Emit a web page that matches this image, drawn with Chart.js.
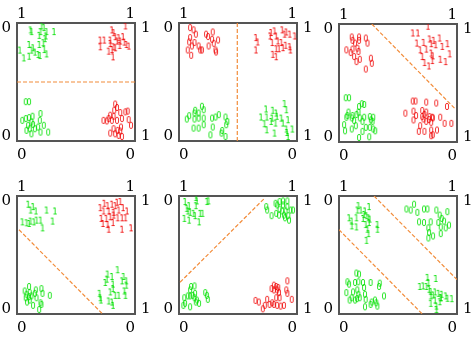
<!DOCTYPE html>
<html>
<head>
<meta charset="utf-8">
<script src="https://cdn.jsdelivr.net/npm/chart.js"></script>
<style>
  html, body { margin: 0; padding: 0; background: #fff; overflow: hidden; }
  body { width: 474px; height: 338px; position: relative; }
  canvas { position: absolute; }
</style>
</head>
<body>
<canvas id="c1" width="158" height="169" style="left:0px;top:0px"></canvas>
<canvas id="c2" width="158" height="169" style="left:162px;top:0px"></canvas>
<canvas id="c3" width="158" height="169" style="left:322px;top:1px"></canvas>
<canvas id="c4" width="158" height="169" style="left:0px;top:173px"></canvas>
<canvas id="c5" width="158" height="169" style="left:162px;top:173px"></canvas>
<canvas id="c6" width="158" height="169" style="left:322px;top:173px"></canvas>
<script>
// corner labels (same on every panel)
const topLabels = ['1', '1'];
const bottomLabels = ['0', '0'];
const leftLabels = ['0', '0'];
const rightLabels = ['1', '1'];
const cornerTicks = [0.04, 0.96];

const RED = '#f00000';
const GREEN = '#00e000';
const LINE = '#f28c3a';

// panel 1
const p1TopLeft = [[0.114,0.937],[0.122,0.923],[0.207,0.971],[0.227,0.957],[0.199,0.923],[0.25,0.923],[0.244,0.886],[0.313,0.923],[0.188,0.891],[0.236,0.863],[0.102,0.814],[0.136,0.786],[0.188,0.814],[0.222,0.829],[0.023,0.766],[0.122,0.766],[0.151,0.749],[0.179,0.729],[0.193,0.72],[0.25,0.734],[0.057,0.7],[0.102,0.714],[0.23,0.771]];
const p1TopRight = [[0.918,0.971],[0.804,0.937],[0.818,0.914],[0.705,0.851],[0.739,0.851],[0.79,0.851],[0.832,0.88],[0.861,0.871],[0.898,0.88],[0.847,0.843],[0.875,0.843],[0.909,0.834],[0.926,0.814],[0.946,0.8],[0.79,0.823],[0.818,0.794],[0.776,0.757],[0.804,0.771],[0.832,0.786],[0.869,0.806],[0.705,0.794],[0.813,0.709]];
const p1BottomLeft = [[0.074,0.329],[0.102,0.329],[0.045,0.171],[0.074,0.186],[0.102,0.194],[0.131,0.206],[0.199,0.229],[0.193,0.171],[0.122,0.157],[0.094,0.129],[0.136,0.137],[0.108,0.1],[0.151,0.1],[0.179,0.114],[0.227,0.129],[0.122,0.057],[0.199,0.071],[0.264,0.071],[0.08,0.086]];
const p1BottomRight = [[0.832,0.309],[0.847,0.28],[0.824,0.257],[0.875,0.237],[0.918,0.243],[0.938,0.249],[0.79,0.214],[0.818,0.206],[0.776,0.186],[0.733,0.171],[0.761,0.166],[0.804,0.171],[0.847,0.171],[0.889,0.186],[0.946,0.177],[0.966,0.129],[0.881,0.114],[0.818,0.1],[0.852,0.086],[0.875,0.08],[0.79,0.063],[0.832,0.057],[0.861,0.043],[0.889,0.034]];
const p1Lines = [[[0, 0.5], [1, 0.5]]];

// panel 2
const p2TopLeft = [[0.094,0.957],[0.123,0.938],[0.143,0.901],[0.094,0.872],[0.086,0.835],[0.131,0.83],[0.109,0.801],[0.166,0.801],[0.18,0.767],[0.194,0.767],[0.074,0.767],[0.103,0.722],[0.229,0.901],[0.246,0.881],[0.286,0.92],[0.28,0.858],[0.294,0.824],[0.331,0.852],[0.251,0.801],[0.309,0.767],[0.314,0.75]];
const p2TopRight = [[0.651,0.872],[0.666,0.835],[0.651,0.767],[0.78,0.915],[0.809,0.929],[0.771,0.886],[0.823,0.886],[0.874,0.938],[0.909,0.92],[0.894,0.901],[0.937,0.901],[0.98,0.886],[0.789,0.83],[0.837,0.844],[0.866,0.83],[0.903,0.807],[0.937,0.795],[0.943,0.767],[0.823,0.778],[0.846,0.778],[0.88,0.787],[0.794,0.73],[0.823,0.71]];
const p2BottomLeft = [[0.137,0.256],[0.194,0.29],[0.209,0.261],[0.131,0.233],[0.166,0.233],[0.086,0.21],[0.066,0.182],[0.131,0.182],[0.166,0.19],[0.209,0.19],[0.28,0.19],[0.309,0.199],[0.337,0.219],[0.394,0.199],[0.409,0.162],[0.4,0.134],[0.166,0.105],[0.123,0.105],[0.209,0.134],[0.286,0.114],[0.366,0.085],[0.36,0.063],[0.266,0.048],[0.394,0.034]];
const p2BottomRight = [[0.894,0.3125],[0.909,0.261],[0.737,0.267],[0.794,0.256],[0.823,0.233],[0.694,0.199],[0.743,0.199],[0.789,0.19],[0.829,0.205],[0.866,0.19],[0.923,0.176],[0.723,0.142],[0.78,0.162],[0.817,0.148],[0.88,0.148],[0.743,0.091],[0.809,0.0625],[0.909,0.097],[0.96,0.097],[0.923,0.034],[0.914,0.068]];
const p2Lines = [[[0.494, 0], [0.494, 1]]];

// panel 3
const p3TopLeft = [[0.108,0.886],[0.17,0.886],[0.227,0.877],[0.114,0.857],[0.136,0.834],[0.17,0.857],[0.241,0.834],[0.0625,0.777],[0.114,0.783],[0.156,0.791],[0.165,0.763],[0.128,0.72],[0.176,0.697],[0.27,0.706],[0.278,0.663],[0.148,0.677],[0.227,0.614],[0.099,0.754]];
const p3TopRight = [[0.753,0.977],[0.625,0.92],[0.668,0.92],[0.767,0.869],[0.852,0.877],[0.801,0.857],[0.659,0.834],[0.716,0.84],[0.781,0.829],[0.818,0.82],[0.875,0.806],[0.918,0.829],[0.688,0.777],[0.739,0.783],[0.781,0.749],[0.795,0.726],[0.705,0.72],[0.858,0.697],[0.903,0.677],[0.9375,0.743],[0.724,0.669],[0.761,0.64],[0.79,0.686]];
const p3BottomLeft = [[0.057,0.371],[0.085,0.371],[0.193,0.32],[0.17,0.297],[0.213,0.314],[0.08,0.249],[0.165,0.249],[0.148,0.229],[0.114,0.22],[0.071,0.22],[0.108,0.2],[0.0625,0.206],[0.176,0.2],[0.213,0.206],[0.261,0.211],[0.29,0.206],[0.27,0.183],[0.284,0.171],[0.128,0.177],[0.199,0.171],[0.043,0.143],[0.142,0.134],[0.227,0.12],[0.261,0.12],[0.29,0.106],[0.307,0.091],[0.108,0.106],[0.051,0.091],[0.199,0.086],[0.256,0.04],[0.17,0.034]];
const p3BottomRight = [[0.625,0.343],[0.648,0.343],[0.739,0.334],[0.824,0.326],[0.915,0.297],[0.5625,0.24],[0.631,0.257],[0.705,0.263],[0.739,0.249],[0.653,0.22],[0.724,0.229],[0.767,0.211],[0.79,0.206],[0.705,0.211],[0.631,0.183],[0.716,0.191],[0.761,0.186],[0.795,0.2],[0.858,0.206],[0.739,0.171],[0.781,0.163],[0.895,0.154],[0.952,0.154],[0.676,0.086],[0.724,0.086],[0.781,0.097],[0.83,0.097],[0.781,0.049],[0.795,0.057],[0.688,0.134]];
const p3Lines = [[[0.278, 1], [0.985, 0.28]]];

// panel 4
const p4TopLeft = [[0.094,0.926],[0.136,0.906],[0.114,0.877],[0.159,0.869],[0.25,0.877],[0.321,0.869],[0.045,0.777],[0.08,0.769],[0.114,0.783],[0.142,0.777],[0.165,0.791],[0.199,0.791],[0.216,0.726],[0.301,0.783],[0.102,0.763]];
const p4TopRight = [[0.705,0.897],[0.739,0.934],[0.767,0.914],[0.804,0.926],[0.847,0.943],[0.875,0.949],[0.832,0.914],[0.733,0.869],[0.776,0.869],[0.818,0.857],[0.861,0.877],[0.898,0.897],[0.932,0.869],[0.713,0.806],[0.756,0.806],[0.79,0.82],[0.818,0.834],[0.852,0.811],[0.889,0.811],[0.918,0.811],[0.727,0.763],[0.767,0.754],[0.813,0.771],[0.776,0.714],[0.889,0.714],[0.966,0.726]];
const p4BottomLeft = [[0.065,0.191],[0.102,0.229],[0.08,0.163],[0.108,0.177],[0.074,0.134],[0.102,0.143],[0.122,0.149],[0.151,0.171],[0.108,0.114],[0.085,0.097],[0.165,0.134],[0.136,0.069],[0.199,0.091],[0.207,0.211],[0.216,0.171],[0.278,0.154],[0.159,0.2],[0.188,0.034],[0.207,0.077]];
const p4BottomRight = [[0.852,0.371],[0.767,0.334],[0.804,0.314],[0.761,0.291],[0.747,0.263],[0.903,0.314],[0.926,0.277],[0.889,0.277],[0.926,0.24],[0.813,0.249],[0.813,0.211],[0.79,0.183],[0.832,0.154],[0.861,0.154],[0.909,0.191],[0.918,0.154],[0.699,0.171],[0.705,0.134],[0.71,0.114],[0.776,0.106],[0.804,0.097],[0.813,0.069]];
const p4Lines = [[[0.017, 0.714], [0.719, 0.006]]];

// panel 5
const p5TopLeft = [[0.142,0.983],[0.051,0.949],[0.151,0.954],[0.25,0.954],[0.236,0.949],[0.085,0.914],[0.065,0.891],[0.142,0.914],[0.074,0.869],[0.094,0.857],[0.122,0.849],[0.179,0.849],[0.199,0.849],[0.136,0.829],[0.045,0.806],[0.085,0.791],[0.17,0.777]];
const p5TopRight = [[0.739,0.906],[0.747,0.877],[0.818,0.934],[0.832,0.92],[0.852,0.949],[0.881,0.954],[0.918,0.954],[0.881,0.92],[0.918,0.906],[0.852,0.886],[0.875,0.869],[0.903,0.869],[0.946,0.877],[0.966,0.877],[0.824,0.849],[0.784,0.829],[0.847,0.834],[0.889,0.834],[0.926,0.829],[0.932,0.791],[0.898,0.811]];
const p5BottomLeft = [[0.102,0.229],[0.131,0.234],[0.094,0.2],[0.074,0.149],[0.094,0.149],[0.114,0.154],[0.136,0.171],[0.131,0.134],[0.151,0.114],[0.17,0.086],[0.222,0.177],[0.236,0.154],[0.244,0.12],[0.045,0.134],[0.051,0.086],[0.037,0.069],[0.094,0.057],[0.142,0.097]];
const p5BottomRight = [[0.918,0.277],[0.804,0.24],[0.824,0.229],[0.841,0.22],[0.784,0.211],[0.804,0.2],[0.832,0.2],[0.847,0.177],[0.909,0.2],[0.918,0.171],[0.747,0.12],[0.648,0.111],[0.676,0.097],[0.824,0.134],[0.852,0.134],[0.79,0.091],[0.767,0.077],[0.804,0.077],[0.832,0.069],[0.861,0.063],[0.889,0.069],[0.955,0.12],[0.71,0.04],[0.727,0.069]];
const p5Lines = [[[0.009, 0.269], [0.727, 0.983]]];

// panel 6
const p6TopLeft = [[0.164,0.914],[0.155,0.877],[0.184,0.877],[0.22,0.869],[0.254,0.906],[0.212,0.84],[0.232,0.829],[0.249,0.811],[0.26,0.8],[0.085,0.811],[0.107,0.783],[0.147,0.811],[0.203,0.806],[0.254,0.771],[0.226,0.754],[0.107,0.743],[0.147,0.734],[0.24,0.714],[0.325,0.754],[0.325,0.714],[0.249,0.677],[0.232,0.62]];
const p6TopRight = [[0.571,0.886],[0.607,0.877],[0.636,0.926],[0.664,0.857],[0.72,0.886],[0.749,0.886],[0.825,0.877],[0.918,0.863],[0.853,0.834],[0.87,0.806],[0.89,0.783],[0.678,0.777],[0.72,0.771],[0.777,0.777],[0.842,0.771],[0.862,0.734],[0.904,0.726],[0.932,0.749],[0.757,0.726],[0.763,0.686],[0.797,0.657],[0.757,0.64],[0.862,0.677]];
const p6BottomLeft = [[0.147,0.343],[0.169,0.334],[0.071,0.269],[0.085,0.249],[0.136,0.263],[0.164,0.269],[0.203,0.263],[0.268,0.263],[0.345,0.257],[0.339,0.229],[0.062,0.177],[0.212,0.22],[0.119,0.183],[0.155,0.2],[0.164,0.163],[0.22,0.163],[0.107,0.134],[0.09,0.114],[0.136,0.114],[0.153,0.126],[0.226,0.12],[0.277,0.097],[0.305,0.114],[0.316,0.091],[0.268,0.077],[0.22,0.057],[0.325,0.063],[0.381,0.149],[0.175,0.134]];
const p6BottomRight = [[0.749,0.306],[0.819,0.297],[0.757,0.263],[0.684,0.229],[0.712,0.234],[0.74,0.229],[0.763,0.206],[0.777,0.186],[0.814,0.183],[0.797,0.157],[0.842,0.171],[0.87,0.163],[0.904,0.149],[0.918,0.129],[0.862,0.134],[0.955,0.126],[0.777,0.149],[0.814,0.114],[0.853,0.1],[0.862,0.134],[0.777,0.086],[0.825,0.063],[0.825,0.034]];
const p6Lines = [[[0.297, 1], [1, 0.291]], [[0, 0.714], [0.706, 0]]];

const panels = [
  { id: 'c1', lines: p1Lines, groups: [['1', GREEN, p1TopLeft], ['1', RED, p1TopRight], ['0', GREEN, p1BottomLeft], ['0', RED, p1BottomRight]] },
  { id: 'c2', lines: p2Lines, groups: [['0', RED, p2TopLeft], ['1', RED, p2TopRight], ['0', GREEN, p2BottomLeft], ['1', GREEN, p2BottomRight]] },
  { id: 'c3', lines: p3Lines, groups: [['0', RED, p3TopLeft], ['1', RED, p3TopRight], ['0', GREEN, p3BottomLeft], ['0', RED, p3BottomRight]] },
  { id: 'c4', lines: p4Lines, groups: [['1', GREEN, p4TopLeft], ['1', RED, p4TopRight], ['0', GREEN, p4BottomLeft], ['1', GREEN, p4BottomRight]] },
  { id: 'c5', lines: p5Lines, groups: [['1', GREEN, p5TopLeft], ['0', GREEN, p5TopRight], ['0', GREEN, p5BottomLeft], ['0', RED, p5BottomRight]] },
  { id: 'c6', lines: p6Lines, groups: [['1', GREEN, p6TopLeft], ['0', GREEN, p6TopRight], ['0', GREEN, p6BottomLeft], ['1', GREEN, p6BottomRight]] }
];

// little canvas with a digit, used as the point marker
const glyphCache = {};
function glyph(text, color) {
  const key = text + color;
  if (glyphCache[key]) return glyphCache[key];
  const c = document.createElement('canvas');
  c.width = 8; c.height = 10;
  const g = c.getContext('2d');
  g.font = '8px "DejaVu Sans", sans-serif';
  g.fillStyle = color;
  g.textAlign = 'center';
  g.textBaseline = 'middle';
  g.fillText(text, 4, 5.5);
  glyphCache[key] = c;
  return c;
}

const labelFont = { family: '"DejaVu Serif", serif', size: 15 };

function axis(position, size, labels, pad) {
  return {
    type: 'linear',
    position: position,
    min: 0,
    max: 1,
    grid: { display: false, drawTicks: false },
    border: { display: true, color: '#555', width: 2 },
    afterBuildTicks: s => { s.ticks = cornerTicks.map(v => ({ value: v })); },
    afterFit: s => {
      if (position === 'top' || position === 'bottom') s.height = size;
      else s.width = size;
    },
    ticks: {
      font: labelFont,
      color: '#000',
      padding: pad,
      maxRotation: 0,
      autoSkip: false,
      callback: (v, i) => labels[i]
    }
  };
}

panels.forEach(p => {
  const datasets = [];
  p.lines.forEach(l => {
    datasets.push({
      type: 'line',
      data: l.map(pt => ({ x: pt[0], y: pt[1] })),
      borderColor: LINE,
      borderWidth: 1.2,
      borderDash: [4, 2],
      pointRadius: 0,
      fill: false
    });
  });
  p.groups.forEach(gr => {
    datasets.push({
      type: 'scatter',
      data: gr[2].map(pt => ({ x: pt[0], y: pt[1] })),
      pointStyle: glyph(gr[0], gr[1]),
      pointRadius: 4,
      borderWidth: 0
    });
  });

  new Chart(document.getElementById(p.id), {
    type: 'scatter',
    data: { datasets: datasets },
    options: {
      responsive: false,
      animation: false,
      events: [],
      layout: { padding: 0 },
      plugins: { legend: { display: false }, tooltip: { enabled: false } },
      scales: {
        x: axis('bottom', 28, bottomLabels, 5),
        xTop: axis('top', 23, topLabels, 0),
        y: axis('left', 17, leftLabels, 6),
        yRight: axis('right', 23, rightLabels, 6)
      }
    }
  });
});
</script>
</body>
</html>
